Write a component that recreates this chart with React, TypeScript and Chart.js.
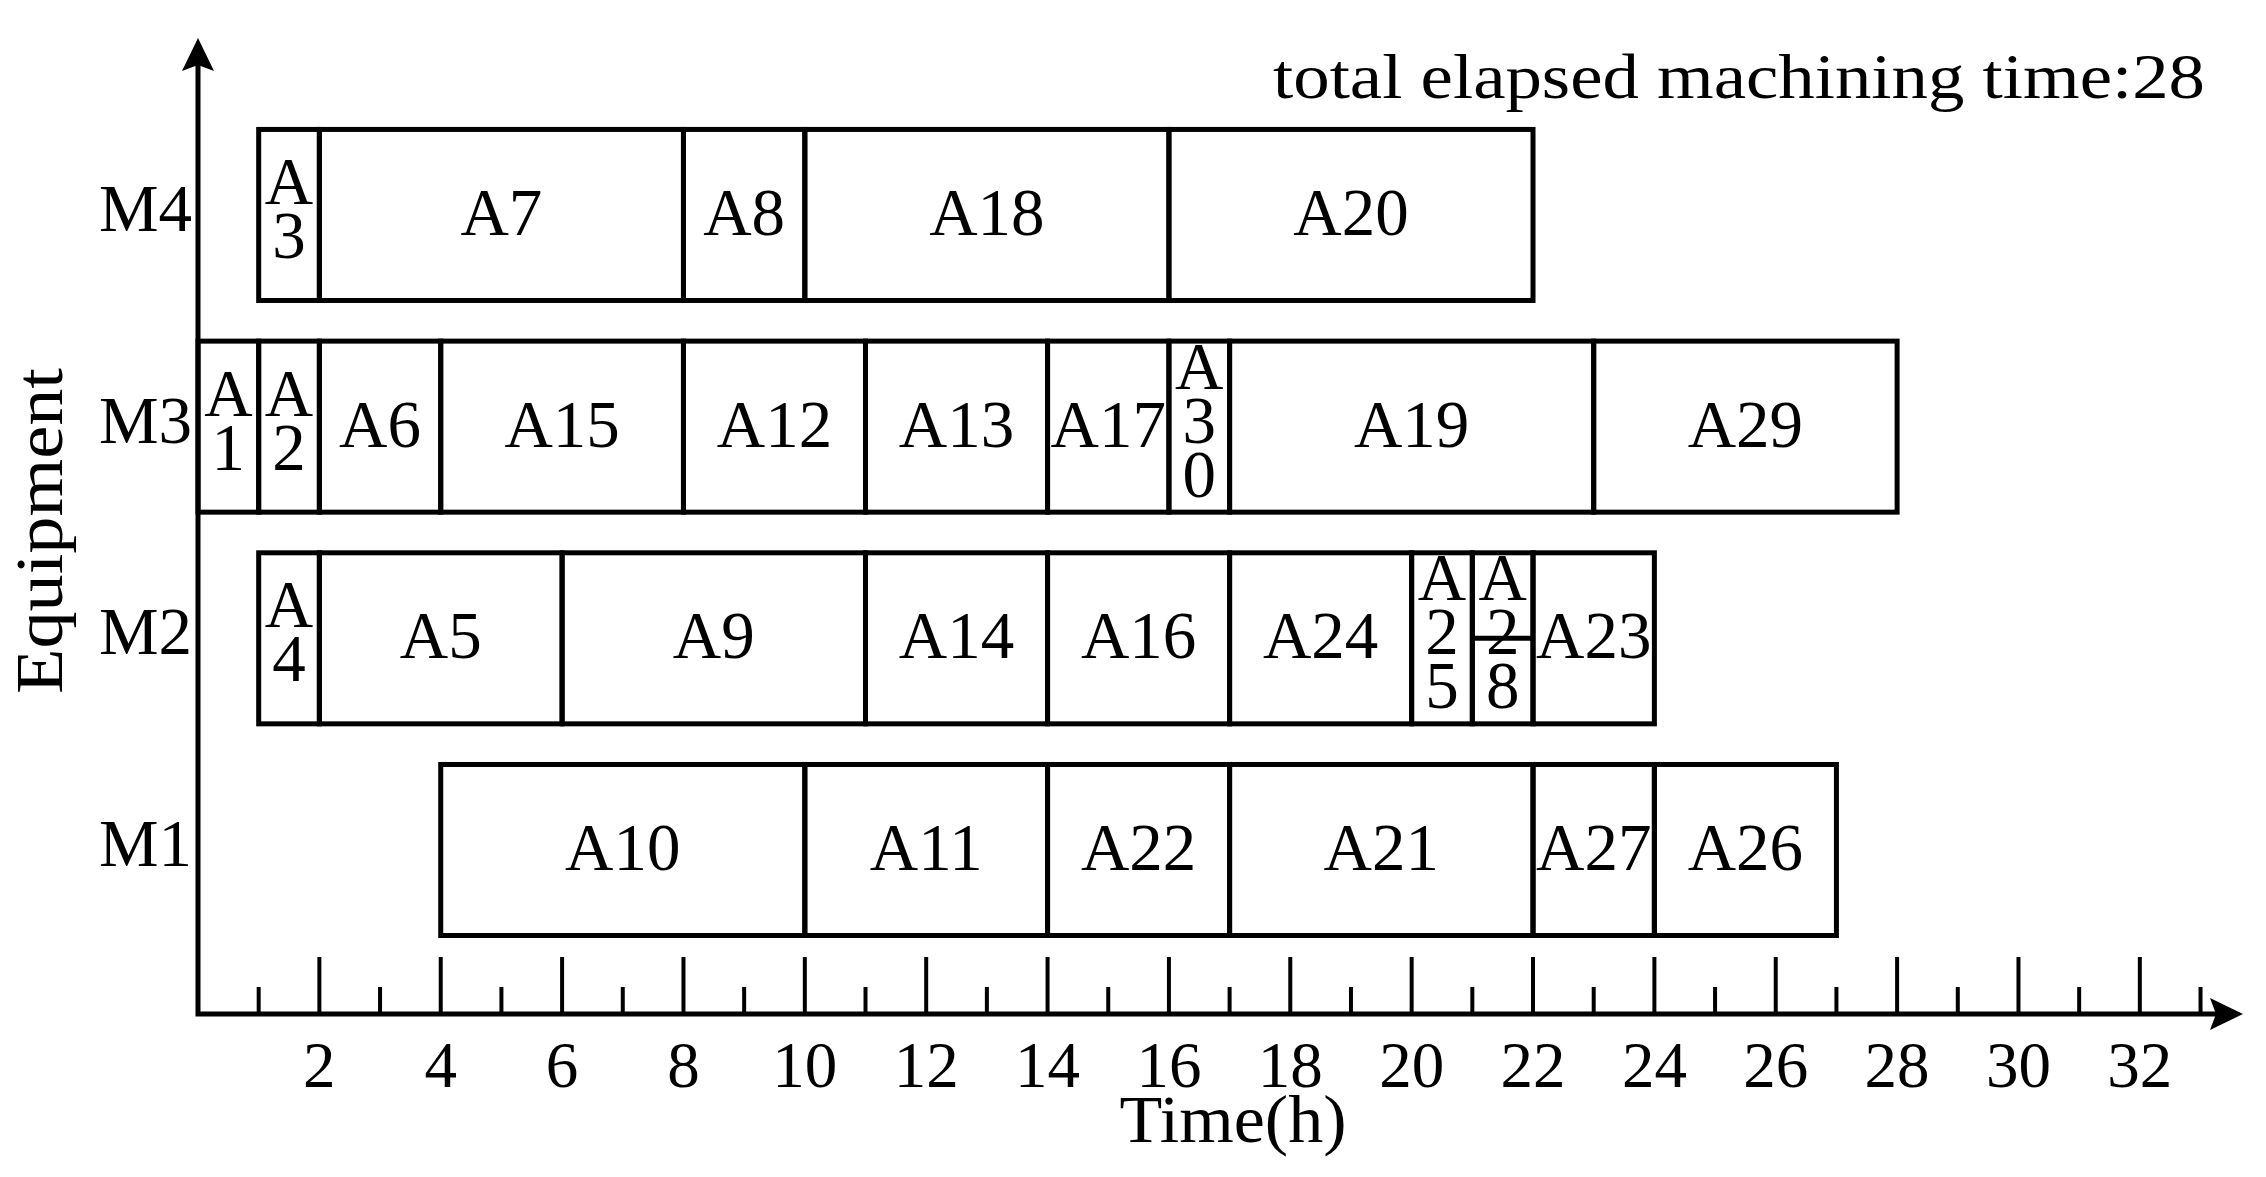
import React, { useEffect, useRef } from 'react';
import { Chart, registerables } from 'chart.js';

Chart.register(...registerables);

// ---- data ----
const machineLabels = ['M1', 'M2', 'M3', 'M4'];

const m1Ops = ['A10', 'A11', 'A22', 'A21', 'A27', 'A26'];
const m1Start = [4, 10, 14, 17, 22, 24];
const m1End = [10, 14, 17, 22, 24, 27];

const m2Ops = ['A4', 'A5', 'A9', 'A14', 'A16', 'A24', 'A25', 'A28', 'A23'];
const m2Start = [1, 2, 6, 11, 14, 17, 20, 21, 22];
const m2End = [2, 6, 11, 14, 17, 20, 21, 22, 24];

const m3Ops = ['A1', 'A2', 'A6', 'A15', 'A12', 'A13', 'A17', 'A30', 'A19', 'A29'];
const m3Start = [0, 1, 2, 4, 8, 11, 14, 16, 17, 23];
const m3End = [1, 2, 4, 8, 11, 14, 16, 17, 23, 28];

const m4Ops = ['A3', 'A7', 'A8', 'A18', 'A20'];
const m4Start = [1, 2, 8, 10, 16];
const m4End = [2, 8, 10, 16, 22];

const splitOps = ['A28'];

const minorTicks = [1, 3, 5, 7, 9, 11, 13, 15, 17, 19, 21, 23, 25, 27, 29, 31, 33];
const majorTicks = [2, 4, 6, 8, 10, 12, 14, 16, 18, 20, 22, 24, 26, 28, 30, 32];

const titleText = 'total elapsed machining time:28';
const xTitle = 'Time(h)';
const yTitle = 'Equipment';

// ---- helpers ----
const FONT = '"Liberation Serif", "Times New Roman", serif';

function buildRows(level: number, ops: string[], s: number[], e: number[]) {
  return ops.map((op, i) => ({ x: [s[i], e[i]], y: level, op }));
}

const allData = [
  ...buildRows(1, m1Ops, m1Start, m1End),
  ...buildRows(2, m2Ops, m2Start, m2End),
  ...buildRows(3, m3Ops, m3Start, m3End),
  ...buildRows(4, m4Ops, m4Start, m4End),
];

function drawText(
  ctx: CanvasRenderingContext2D,
  text: string,
  x: number,
  y: number,
  size: number,
  align: CanvasTextAlign,
  targetWidth?: number,
  rotate?: number
) {
  ctx.save();
  ctx.font = `${size}px ${FONT}`;
  const w = ctx.measureText(text).width;
  const sx = targetWidth ? targetWidth / w : 1;
  ctx.translate(x, y);
  if (rotate) ctx.rotate(rotate);
  ctx.scale(sx, 1);
  ctx.textAlign = align;
  ctx.textBaseline = 'alphabetic';
  ctx.fillStyle = '#000';
  ctx.fillText(text, 0, 0);
  ctx.restore();
}

const ganttPlugin = {
  id: 'gantt',
  beforeDraw(chart: any) {
    const ctx = chart.ctx;
    ctx.save();
    ctx.fillStyle = '#fff';
    ctx.fillRect(0, 0, chart.width, chart.height);
    ctx.restore();
  },
  afterDatasetsDraw(chart: any) {
    const ctx: CanvasRenderingContext2D = chart.ctx;
    const xs = chart.scales.x;
    const ys = chart.scales.y;
    const area = chart.chartArea;
    const meta = chart.getDatasetMeta(0);
    const ds = chart.data.datasets[0].data as any[];

    ctx.save();
    ctx.strokeStyle = '#000';
    ctx.fillStyle = '#000';

    // bars outline + labels
    meta.data.forEach((el: any, i: number) => {
      const p = el.getProps(['x', 'y', 'base', 'height'], true);
      const left = Math.min(p.x, p.base);
      const right = Math.max(p.x, p.base);
      const top = p.y - p.height / 2;
      ctx.lineWidth = 5;
      ctx.strokeRect(left, top, right - left, p.height);

      const op: string = ds[i].op;
      const cx = (left + right) / 2;
      ctx.font = `67px ${FONT}`;
      const tw = ctx.measureText(op).width;
      if (tw > right - left) {
        const chars = op.split('');
        const n = chars.length;
        chars.forEach((c, k) => {
          drawText(ctx, c, cx, p.y + 16 + (k - (n - 1) / 2) * 54, 67, 'center');
        });
      } else {
        drawText(ctx, op, cx, p.y + 20, 67, 'center');
      }
      if (splitOps.includes(op)) {
        ctx.lineWidth = 5;
        ctx.beginPath();
        ctx.moveTo(left, p.y);
        ctx.lineTo(right, p.y);
        ctx.stroke();
      }
    });

    // axes
    const ox = xs.getPixelForValue(0);
    const oy = area.bottom;
    ctx.lineWidth = 5;
    ctx.lineCap = 'butt';
    ctx.beginPath();
    ctx.moveTo(ox, oy);
    ctx.lineTo(area.right - 20, oy);
    ctx.moveTo(ox, oy + 2.5);
    ctx.lineTo(ox, area.top + 20);
    ctx.stroke();

    // arrow heads
    const ah = 33;
    const hw = 16;
    ctx.beginPath();
    ctx.moveTo(area.right, oy);
    ctx.lineTo(area.right - ah, oy - hw);
    ctx.lineTo(area.right - ah + 6, oy);
    ctx.lineTo(area.right - ah, oy + hw);
    ctx.closePath();
    ctx.fill();
    ctx.beginPath();
    ctx.moveTo(ox, area.top);
    ctx.lineTo(ox - hw, area.top + ah);
    ctx.lineTo(ox, area.top + ah - 6);
    ctx.lineTo(ox + hw, area.top + ah);
    ctx.closePath();
    ctx.fill();

    // ticks
    ctx.lineWidth = 4;
    minorTicks.forEach((v) => {
      const px = xs.getPixelForValue(v);
      ctx.beginPath();
      ctx.moveTo(px, oy);
      ctx.lineTo(px, oy - 27);
      ctx.stroke();
    });
    majorTicks.forEach((v) => {
      const px = xs.getPixelForValue(v);
      ctx.beginPath();
      ctx.moveTo(px, oy);
      ctx.lineTo(px, oy - 57);
      ctx.stroke();
      drawText(ctx, String(v), px, oy + 73, 65, 'center');
    });

    // machine labels
    machineLabels.forEach((m, i) => {
      const py = ys.getPixelForValue(i + 1);
      drawText(ctx, m, ox - 6, py + 16, 67, 'right');
    });

    // titles
    drawText(ctx, titleText, 2205, 98, 64, 'right', 932);
    drawText(ctx, xTitle, 1233, 1142, 67, 'center', 227);
    drawText(ctx, yTitle, 62, 531, 67, 'center', 326, -Math.PI / 2);

    ctx.restore();
  },
};

export default function App() {
  const ref = useRef<HTMLCanvasElement | null>(null);

  useEffect(() => {
    if (!ref.current) return;
    const chart = new Chart(ref.current, {
      type: 'bar',
      data: {
        datasets: [
          {
            data: allData as any,
            backgroundColor: '#ffffff',
            borderWidth: 0,
            barPercentage: 0.808,
            categoryPercentage: 1,
          },
        ],
      },
      options: {
        indexAxis: 'y',
        animation: false,
        responsive: false,
        devicePixelRatio: 1,
        layout: { padding: { left: 198, top: 38, right: 23, bottom: 163 } },
        scales: {
          x: { type: 'linear', min: 0, max: 33.7, display: false, offset: false },
          y: {
            type: 'linear',
            min: 0.2252,
            max: 4.836,
            display: false,
            offset: false,
            grid: { offset: false },
            ticks: { stepSize: 1, includeBounds: false },
          },
        },
        plugins: {
          legend: { display: false },
          tooltip: { enabled: false },
          title: { display: false },
        },
      },
      plugins: [ganttPlugin],
    });
    return () => chart.destroy();
  }, []);

  return (
    <div style={{ position: 'fixed', left: 0, top: 0, width: 2266, height: 1177, background: '#fff' }}>
      <canvas ref={ref} width={2266} height={1177} style={{ display: 'block' }} />
    </div>
  );
}
